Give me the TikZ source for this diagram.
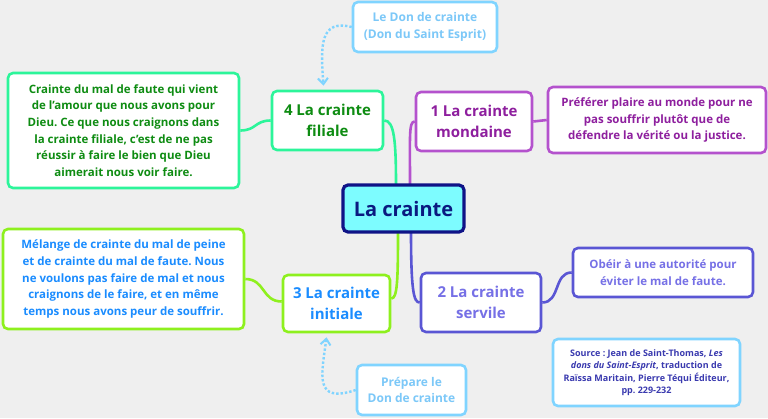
\documentclass[tikz,border=0pt]{standalone}
\usepackage{fontspec}
\setmainfont{Open Sans}
\frenchspacing
\usetikzlibrary{arrows.meta,calc}
\definecolor{bgc}{HTML}{EFEFEF}
\definecolor{cfill}{HTML}{7DFCFF}
\definecolor{cdraw}{HTML}{0F1387}
\definecolor{ctext}{HTML}{0A1A80}
\definecolor{fdraw}{HTML}{2CF59A}
\definecolor{ftext}{HTML}{0E8C12}
\definecolor{mdraw}{HTML}{B452CD}
\definecolor{mtext}{HTML}{8E1F9E}
\definecolor{idraw}{HTML}{8EF01E}
\definecolor{itext}{HTML}{1A8CFF}
\definecolor{sdraw}{HTML}{5A56D4}
\definecolor{stext}{HTML}{7670E6}
\definecolor{ldraw}{HTML}{80D4FF}
\definecolor{ltext}{HTML}{7CC8F8}
\definecolor{srctext}{HTML}{3A3AAF}
\tikzset{
  box/.style={draw, fill=white, rounded corners=5pt, line width=2.6pt, align=center, inner sep=0pt, font=\bfseries\fontsize{11.5}{16.7}\selectfont},
  title/.style={box, font=\bfseries\fontsize{15}{21}\selectfont},
  link/.style={line width=2.6pt},
  dotlink/.style={ldraw, line width=2.4pt, dotted, -{Straight Barb[length=6pt,width=10pt,line width=2pt]}},
}
\begin{document}
\begin{tikzpicture}[x=1pt,y=-1pt]
\fill[bgc] (0,0) rectangle (768,418);
\useasboundingbox (0,0) rectangle (768,418);

\coordinate (cg) at (396,186);
\coordinate (cp) at (410,186);
\coordinate (cl) at (398,231);
\coordinate (cs) at (411,231);

\node[title, draw=fdraw, text=ftext, minimum width=111pt, minimum height=59pt] (fil) at (327.5,120.5) {4 La crainte\\filiale};
\node[box, draw=fdraw, text=ftext, minimum width=231pt, minimum height=115pt] (fild) at (123.5,130.5) {Crainte du mal de faute qui vient\\de l’amour que nous avons pour\\Dieu. Ce que nous craignons dans\\la crainte filiale, c’est de ne pas\\réussir à faire le bien que Dieu\\aimerait nous voir faire.};
\node[box, draw=ldraw, text=ltext, font=\bfseries\fontsize{12}{16.7}\selectfont, minimum width=144pt, minimum height=50pt] (don) at (425,27) {Le Don de crainte\\(Don du Saint Esprit)};
\node[title, draw=mdraw, text=mtext, minimum width=116pt, minimum height=59pt] (mon) at (474,121.5) {1 La crainte\\mondaine};
\node[box, draw=mdraw, text=mtext, minimum width=218pt, minimum height=66pt] (mond) at (657,120) {Préférer plaire au monde pour ne\\pas souffrir plutôt que de\\défendre la vérité ou la justice.};
\node[title, draw=idraw, text=itext, minimum width=107pt, minimum height=57pt] (ini) at (336.5,303.5) {3 La crainte\\initiale};
\node[box, draw=idraw, text=itext, minimum width=241pt, minimum height=100pt] (inid) at (123.5,279) {Mélange de crainte du mal de peine\\et de crainte du mal de faute. Nous\\ne voulons pas faire de mal et nous\\craignons de le faire, et en même\\temps nous avons peur de souffrir.};
\node[title, draw=sdraw, text=stext, minimum width=120pt, minimum height=59pt] (ser) at (481,302.5) {2 La crainte\\servile};
\node[box, draw=sdraw, text=stext, minimum width=180pt, minimum height=49pt] (serd) at (663,272.5) {Obéir à une autorité pour\\éviter le mal de faute.};
\node[box, draw=ldraw, text=ltext, font=\bfseries\fontsize{12}{16.7}\selectfont, minimum width=109pt, minimum height=50pt] (prep) at (411.5,390) {Prépare le\\Don de crainte};
\node[box, draw=ldraw, text=srctext, font=\bfseries\fontsize{9}{12.4}\selectfont, minimum width=187pt, minimum height=67pt] (src) at (646.5,372.5) {Source : Jean de Saint-Thomas, \textit{Les}\\\textit{dons du Saint-Esprit}, traduction de\\Raïssa Maritain, Pierre Téqui Éditeur,\\pp. 229-232};

\draw[link, fdraw] (cg) .. controls +(0,-45) and +(10,0) .. (fil.east);
\draw[link, mdraw] (cp) .. controls +(0,-50) and +(-6,0) .. (mon.west);
\draw[link, idraw] (cl) .. controls +(0,50) and +(6,0) .. ($(ini.east)+(0,-5)$);
\draw[link, sdraw] (cs) .. controls +(0,60) and +(-6,0) .. (ser.west);
\draw[link, fdraw] (fil.west) .. controls +(-16,0) and +(16,0) .. (fild.east);
\draw[link, mdraw] (mon.east) -- (mond.west);
\draw[link, idraw] ($(ini.west)+(0,-2)$) .. controls +(-20,0) and +(20,0) .. (inid.east);
\draw[link, sdraw] (ser.east) .. controls +(18,0) and +(-18,0) .. (serd.west);

\node[box, draw=cdraw, fill=cfill, text=ctext, line width=3.2pt, font=\bfseries\fontsize{20}{25}\selectfont, minimum width=121pt, minimum height=47pt] (c) at (403.5,208.5) {La crainte};

\draw[dotlink] (don.west) .. controls +(-32,-8) and +(-3,-40) .. ($(fil.north)+(-4,-4)$);
\draw[dotlink] (prep.west) .. controls +(-42,14) and +(-5,38) .. ($(ini.south)+(-10,4)$);
\end{tikzpicture}
\end{document}
